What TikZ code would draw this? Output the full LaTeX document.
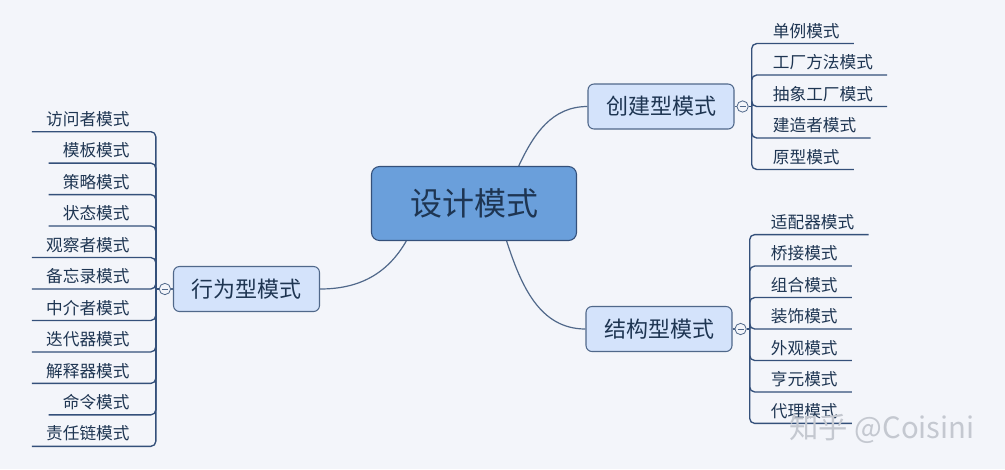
\documentclass[tikz,border=0pt]{standalone}
\usepackage{fontspec}
\setmainfont{Noto Sans CJK SC}
\usetikzlibrary{positioning}
\definecolor{paper}{HTML}{F3F5FA}
\definecolor{ink}{HTML}{1E3552}
\definecolor{wire}{HTML}{34507A}
\definecolor{rootfill}{HTML}{6A9FDB}
\definecolor{topicfill}{HTML}{D4E3FB}
\definecolor{topicline}{HTML}{50688A}
\definecolor{brandgray}{HTML}{C4C8D0}
\tikzset{
  root/.style={draw=wire, fill=rootfill, rounded corners=6pt, line width=0.8pt,
    minimum width=153.75pt, minimum height=55.5pt, text=ink, font=\fontsize{24}{28}\selectfont},
  topic/.style={draw=topicline, fill=topicfill, rounded corners=4.5pt, line width=0.8pt,
    minimum width=109.5pt, minimum height=33.75pt, text=ink, font=\fontsize{16.5}{20}\selectfont},
  fold/.style={circle, draw=topicline, fill=paper, minimum size=8.5pt, inner sep=0pt, line width=0.6pt,
    path picture={\draw[topicline, line width=0.5pt] ([xshift=2pt]path picture bounding box.west) -- ([xshift=-2pt]path picture bounding box.east);}},
  link/.style={draw=topicline, line width=0.9pt},
  tree/.style={draw=wire, line width=1pt, rounded corners=3.75pt},
  list/.style={row sep=0pt, inner sep=0pt,
    nodes={text=ink, font=\fontsize{12.5}{15}\selectfont, inner xsep=10.5pt, inner ysep=0pt,
      minimum height=23.4pt, text height=1.5em, text depth=0.08em}},
}
\begin{document}
\begin{tikzpicture}[x=0.75pt, y=-0.75pt]
\fill[paper] (0,0) rectangle (1005,469);
\useasboundingbox (0,0) rectangle (1005,469);

\node[root] (design) at (474,203.5) {设计模式};
\node[topic] (create) at (661,106.5) {创建型模式};
\node[topic] (struct) at (659,329) {结构型模式};
\node[topic] (behav) at (246.5,289) {行为型模式};

\draw[link] (design.40) to[out=65, in=180] (create.west);
\draw[link] (design.-49) to[out=-72, in=180] (struct.west);
\draw[link] (design.209) to[out=240, in=0] (behav.east);

\node[fold, right=1.5pt of create] (createfold) {};
\coordinate[right=2.25pt of createfold] (createhub);
\node[fold, right=1.5pt of struct] (structfold) {};
\coordinate[right=2.25pt of structfold] (structhub);
\node[fold, left=1.5pt of behav] (behavfold) {};
\coordinate[left=2.25pt of behavfold] (behavhub);
\draw[link] (create) -- (createfold);
\draw[link] (struct) -- (structfold);
\draw[link] (behav) -- (behavfold);
\draw[tree] (createfold) -- (createhub);
\draw[tree] (structfold) -- (structhub);
\draw[tree] (behavfold) -- (behavhub);

\matrix (createlist) [list, nodes={anchor=south west}, matrix anchor=c3.south west] at ([xshift=5.25pt]createhub)
{
\node (c1) {单例模式}; \\
\node (c2) {工厂方法模式}; \\
\node (c3) {抽象工厂模式}; \\
\node (c4) {建造者模式}; \\
\node (c5) {原型模式}; \\
};

\matrix (structlist) [list, nodes={anchor=south west}, matrix anchor=s4.south west] at ([xshift=5.25pt]structhub)
{
\node (s1) {适配器模式}; \\
\node (s2) {桥接模式}; \\
\node (s3) {组合模式}; \\
\node (s4) {装饰模式}; \\
\node (s5) {外观模式}; \\
\node (s6) {亨元模式}; \\
\node (s7) {代理模式}; \\
};

\matrix (behavlist) [list, nodes={anchor=south east}, matrix anchor=b6.south east] at ([xshift=-9pt]behavhub)
{
\node (b1) {访问者模式}; \\
\node (b2) {模板模式}; \\
\node (b3) {策略模式}; \\
\node (b4) {状态模式}; \\
\node (b5) {观察者模式}; \\
\node (b6) {备忘录模式}; \\
\node (b7) {中介者模式}; \\
\node (b8) {迭代器模式}; \\
\node (b9) {解释器模式}; \\
\node (b10) {命令模式}; \\
\node (b11) {责任链模式}; \\
};

\draw[tree] (createhub) |- (c1.south east);
\draw[tree] (createhub) |- (c2.south east);
\draw[tree] (createhub) |- (c3.south east);
\draw[tree] (createhub) |- (c4.south east);
\draw[tree] (createhub) |- (c5.south east);

\draw[tree] (structhub) |- (s1.south east);
\draw[tree] (structhub) |- (s2.south east);
\draw[tree] (structhub) |- (s3.south east);
\draw[tree] (structhub) |- (s4.south east);
\draw[tree] (structhub) |- (s5.south east);
\draw[tree] (structhub) |- (s6.south east);
\draw[tree] (structhub) |- (s7.south east);

\draw[tree] (behavhub) |- (b1.south west);
\draw[tree] (behavhub) |- (b2.south west);
\draw[tree] (behavhub) |- (b3.south west);
\draw[tree] (behavhub) |- (b4.south west);
\draw[tree] (behavhub) |- (b5.south west);
\draw[tree] (behavhub) |- (b6.south west);
\draw[tree] (behavhub) |- (b7.south west);
\draw[tree] (behavhub) |- (b8.south west);
\draw[tree] (behavhub) |- (b9.south west);
\draw[tree] (behavhub) |- (b10.south west);
\draw[tree] (behavhub) |- (b11.south west);

\node[text=brandgray, font=\fontsize{22}{26}\selectfont] (brand) at (882,429) {知乎 @Coisini};
\end{tikzpicture}
\end{document}
